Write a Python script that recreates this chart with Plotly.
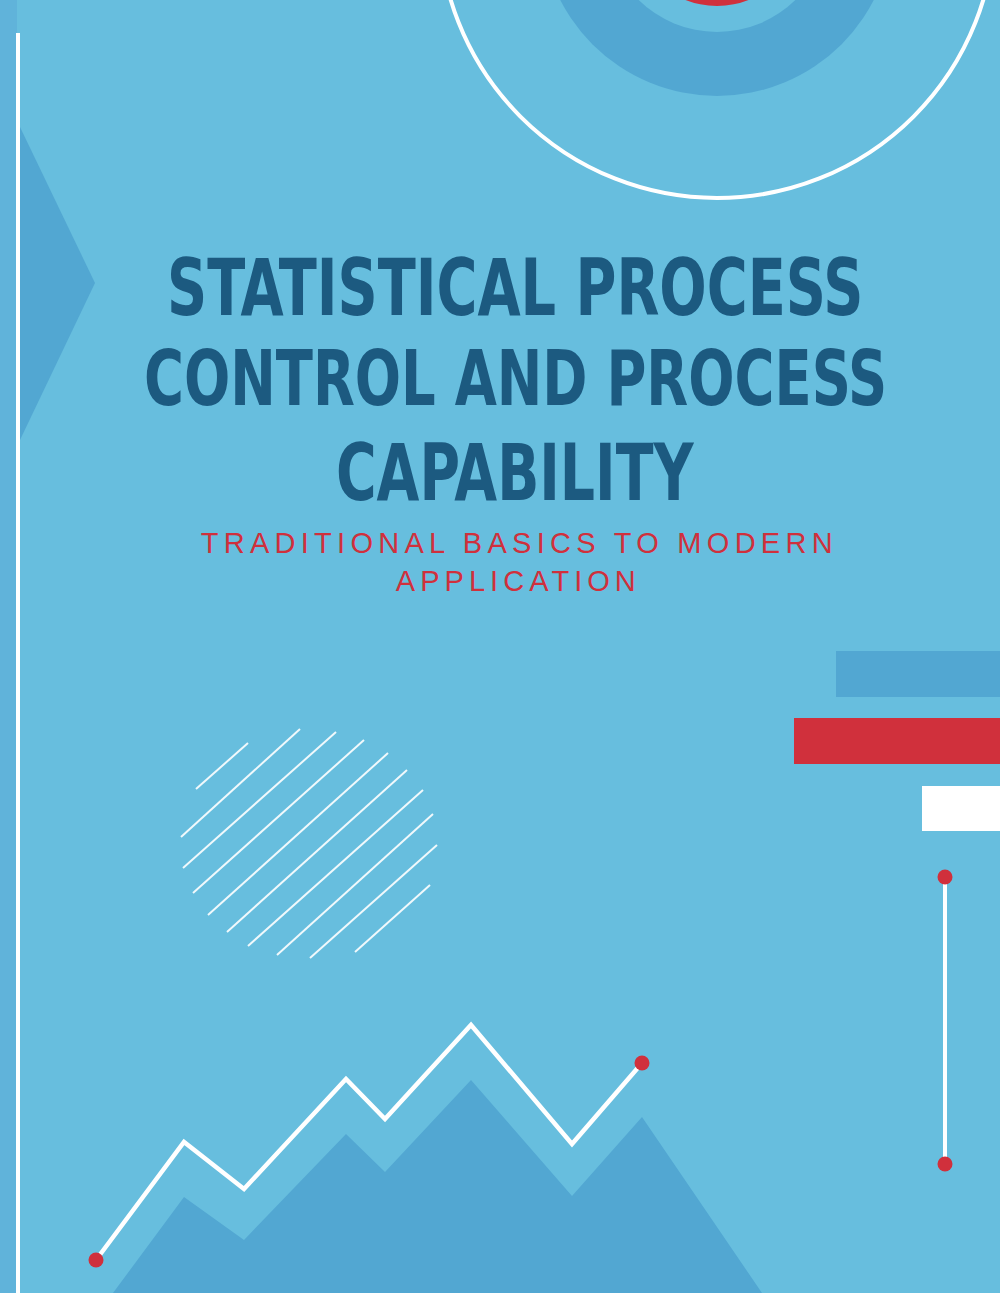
import plotly.graph_objects as go

W, H = 1000, 1293

# ---- palette ----
BG = "#67BEDE"
DARK = "#52A7D2"
STRIP = "#60B3DA"
RED = "#D0303C"
NAVY = "#1C5A80"
WHITE = "#FFFFFF"

# ---- text ----
title_lines = ["STATISTICAL PROCESS", "CONTROL AND PROCESS", "CAPABILITY"]
title_y = [287, 378, 473]
title_sizes = [62, 60.5, 61.5]
title_stretch = 1.27
subtitle_lines = ["TRADITIONAL BASICS TO MODERN", "APPLICATION"]
subtitle_y = [543, 581]
subtitle_widths = [632, 240]

# ---- zig-zag line chart (white line, red end dots) ----
line_x = [96, 184, 244, 346, 385, 471, 572, 642]
line_y = [1260, 1142, 1189, 1079, 1119, 1025, 1144, 1063]

# ---- mountain silhouette under the line ----
mount_x = [113, 184, 244, 346, 385, 471, 572, 642, 762]
mount_y = [1293, 1197, 1240, 1134, 1172, 1080, 1196, 1117, 1293]

# ---- hatched circle (diagonal strokes) ----
hatch_x0 = [196, 181, 183, 193, 208, 227, 248, 277, 310, 355]
hatch_y0 = [789, 837, 868, 893, 915, 932, 946, 955, 958, 952]
hatch_x1 = [248, 300, 336, 364, 388, 407, 423, 433, 437, 430]
hatch_y1 = [743, 729, 732, 740, 753, 770, 790, 814, 845, 885]

# ---- right-hand bars ----
bar_x0 = [836, 794, 922]
bar_y0 = [651, 718, 786]
bar_y1 = [697, 764, 831]
bar_colors = [DARK, RED, WHITE]

# ---- vertical pin (right) ----
pin_x = [945, 945]
pin_y = [877, 1164]

# ---- concentric circles at the top ----
ring_cx, ring_cy = 717, -80
ring_r = [176, 112]           # dark ring, inner light disc
ring_fill = [DARK, BG]
outline_r = 278
red_cx, red_cy, red_r = 717, -80, 86

# ---- left triangle and rule ----
tri_x = [20, 95, 20]
tri_y = [127, 283, 440]

fig = go.Figure()

shapes = []
shapes.append(dict(type="rect", xref="x", yref="y", x0=0, x1=17, y0=0, y1=H,
                   fillcolor=STRIP, line_width=0, layer="below"))
path = "M " + " L ".join(f"{x},{y}" for x, y in zip(tri_x, tri_y)) + " Z"
shapes.append(dict(type="path", xref="x", yref="y", path=path,
                   fillcolor=DARK, line_width=0, layer="below"))
shapes.append(dict(type="line", xref="x", yref="y", x0=18, x1=18, y0=33, y1=H,
                   line=dict(color=WHITE, width=4), layer="below"))
for r, c in zip(ring_r, ring_fill):
    shapes.append(dict(type="circle", xref="x", yref="y",
                       x0=ring_cx - r, x1=ring_cx + r, y0=ring_cy - r, y1=ring_cy + r,
                       fillcolor=c, line_width=0, layer="below"))
shapes.append(dict(type="circle", xref="x", yref="y",
                   x0=red_cx - red_r, x1=red_cx + red_r, y0=red_cy - red_r, y1=red_cy + red_r,
                   fillcolor=RED, line_width=0, layer="below"))
shapes.append(dict(type="circle", xref="x", yref="y",
                   x0=ring_cx - outline_r, x1=ring_cx + outline_r,
                   y0=ring_cy - outline_r, y1=ring_cy + outline_r,
                   fillcolor="rgba(0,0,0,0)", line=dict(color=WHITE, width=4), layer="below"))
for x0, y0, y1, c in zip(bar_x0, bar_y0, bar_y1, bar_colors):
    shapes.append(dict(type="rect", xref="x", yref="y", x0=x0, x1=W, y0=y0, y1=y1,
                       fillcolor=c, line_width=0, layer="below"))

fig.add_trace(go.Scatter(x=mount_x, y=mount_y, fill="toself", fillcolor=DARK,
                         mode="lines", line=dict(width=0, color=DARK),
                         hoverinfo="skip", showlegend=False))

hx, hy = [], []
for a, b, c, d in zip(hatch_x0, hatch_y0, hatch_x1, hatch_y1):
    hx += [a, c, None]
    hy += [b, d, None]
fig.add_trace(go.Scatter(x=hx, y=hy, mode="lines",
                         line=dict(color="rgba(255,255,255,0.9)", width=2),
                         hoverinfo="skip", showlegend=False))

fig.add_trace(go.Scatter(x=line_x, y=line_y, mode="lines",
                         line=dict(color=WHITE, width=4.5),
                         hoverinfo="skip", showlegend=False))
fig.add_trace(go.Scatter(x=[line_x[0], line_x[-1]], y=[line_y[0], line_y[-1]],
                         mode="markers", marker=dict(color=RED, size=15),
                         hoverinfo="skip", showlegend=False))

fig.add_trace(go.Scatter(x=pin_x, y=pin_y, mode="lines",
                         line=dict(color=WHITE, width=4),
                         hoverinfo="skip", showlegend=False))
fig.add_trace(go.Scatter(x=pin_x, y=pin_y, mode="markers",
                         marker=dict(color=RED, size=15),
                         hoverinfo="skip", showlegend=False))

annotations = []
for t, y, s in zip(title_lines, title_y, title_sizes):
    annotations.append(dict(text=t, x=515, y=y, xref="x", yref="y",
                            xanchor="center", yanchor="middle", showarrow=False,
                            font=dict(family="DejaVu Sans Condensed, DejaVu Sans, sans-serif",
                                      size=s, color=NAVY, weight=700)))
for t, y in zip(subtitle_lines, subtitle_y):
    annotations.append(dict(text=t, x=516, y=y, xref="x", yref="y",
                            xanchor="center", yanchor="middle", showarrow=False,
                            font=dict(family="Liberation Sans, Arial, sans-serif",
                                      size=29, color=RED)))

fig.update_layout(
    width=W, height=H,
    margin=dict(l=0, r=0, t=0, b=0),
    paper_bgcolor=BG, plot_bgcolor=BG,
    xaxis=dict(range=[0, W], visible=False, fixedrange=True),
    yaxis=dict(range=[H, 0], visible=False, fixedrange=True),
    shapes=shapes, annotations=annotations,
    showlegend=False,
)

n_title = len(title_lines)
sub_js = "[" + ",".join(str(w) for w in subtitle_widths) + "]"

post = """
document.body.style.margin = '0';
var gd = document.getElementById('{plot_id}');
function annText(i){
  return gd.querySelector('.annotation[data-index="' + i + '"] text.annotation-text');
}
for (var i = 0; i < NT; i++) {
  var t = annText(i);
  if (!t) continue;
  var bb = t.getBBox();
  var cy = bb.y + bb.height / 2;
  t.setAttribute('transform', 'translate(0,' + cy + ') scale(1,' + ST + ') translate(0,' + (-cy) + ')');
}
var sw = SUB;
sw.forEach(function(w, k){
  var t = annText(NT + k);
  if (t) { t.setAttribute('textLength', w); t.setAttribute('lengthAdjust', 'spacing'); }
});
""".replace("NT", str(n_title)).replace("ST", str(title_stretch)).replace("SUB", sub_js)

fig.write_html("out.html", config={"displayModeBar": False}, post_script=post)
